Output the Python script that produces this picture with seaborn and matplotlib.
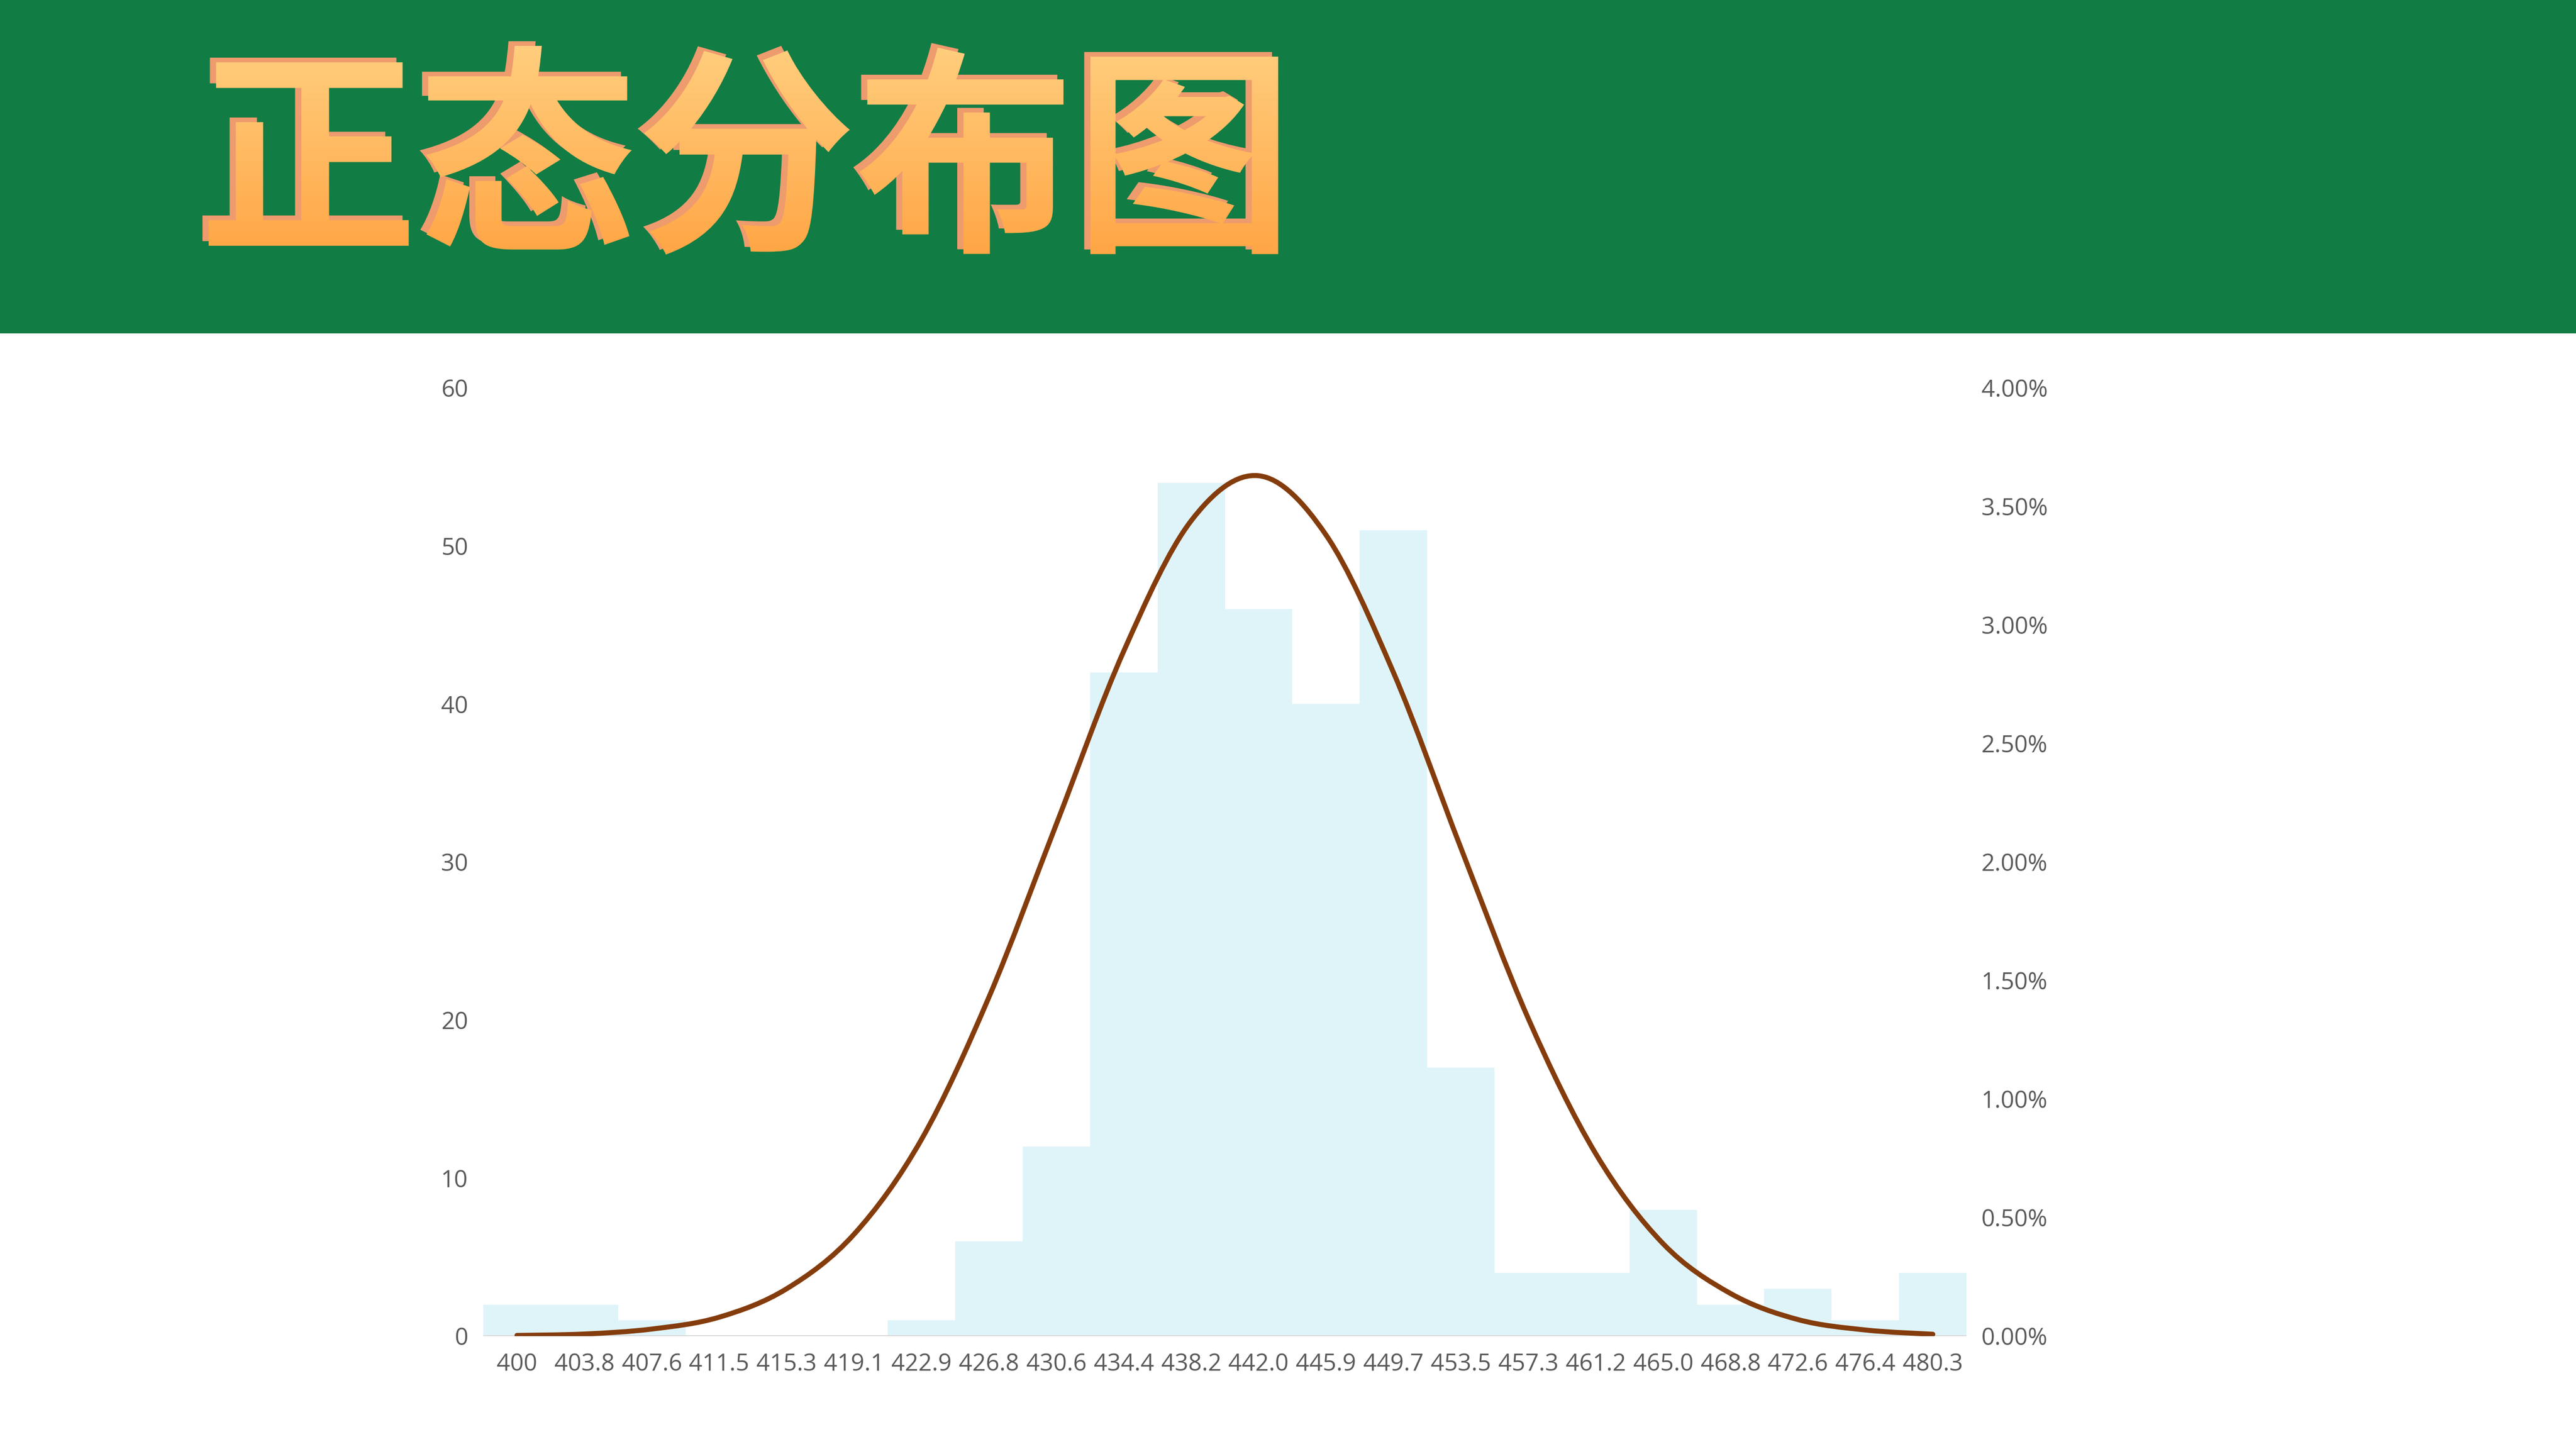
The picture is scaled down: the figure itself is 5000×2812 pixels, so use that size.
import numpy as np
import pandas as pd
import matplotlib
matplotlib.use('Agg')
import matplotlib.pyplot as plt
import seaborn as sns
from matplotlib.path import Path
from matplotlib.patches import PathPatch
from matplotlib.textpath import TextPath
from matplotlib.font_manager import FontProperties
from matplotlib.transforms import Affine2D
from matplotlib.colors import LinearSegmentedColormap
from matplotlib.ticker import FuncFormatter, MultipleLocator

# data
title = '正态分布图'
bins = ['400', '403.8', '407.6', '411.5', '415.3', '419.1', '422.9', '426.8',
        '430.6', '434.4', '438.2', '442.0', '445.9', '449.7', '453.5', '457.3',
        '461.2', '465.0', '468.8', '472.6', '476.4', '480.3']
counts = [2, 2, 1, 0, 0, 0, 1, 6, 12, 42, 54, 46, 40, 51, 17, 4, 4, 8, 2, 3, 1, 4]
# normal curve values in percent
density = [0.003, 0.009, 0.03, 0.08, 0.20, 0.43, 0.83, 1.43, 2.16, 2.89, 3.44,
           3.63, 3.38, 2.80, 2.06, 1.34, 0.77, 0.39, 0.18, 0.07, 0.026, 0.008]

W, H = 5000, 2812
sns.set_theme(style='white')
plt.rcParams['font.family'] = ['Open Sans', 'DejaVu Sans']

fig = plt.figure(figsize=(W / 100, H / 100), dpi=100)
fig.patch.set_facecolor('white')

# green header band with the title
band_h = 647
hdr = fig.add_axes([0, 1 - band_h / H, 1, band_h / H])
hdr.set_facecolor('#117C44')
hdr.set_xticks([])
hdr.set_yticks([])
for s in hdr.spines.values():
    s.set_visible(False)

tp = TextPath((0, 0), title, size=100,
              prop=FontProperties(family='Noto Sans CJK SC', weight='heavy'))
ext = tp.get_extents()
x0, x1, y0, y1 = 405, 2481, 153, 558
tf = (Affine2D().translate(-ext.x0, -ext.y0)
      .scale((x1 - x0) / ext.width, (y1 - y0) / ext.height)
      .translate(x0, y0))
path = tf.transform_path(tp)
shadow = Affine2D().translate(-12, 9).transform_path(path)
hdr.add_patch(PathPatch(shadow, facecolor='#EE9B6E', edgecolor='none', zorder=1))
clip = PathPatch(path, facecolor='none', edgecolor='none', zorder=1)
hdr.add_patch(clip)
grad = np.linspace(0, 1, 256).reshape(-1, 1)
cmap = LinearSegmentedColormap.from_list('title', ['#FFA544', '#FFCF7F'])
im = hdr.imshow(grad, extent=[x0 - 20, x1 + 20, y0 - 10, y1 + 10],
                origin='lower', cmap=cmap, aspect='auto', zorder=2)
im.set_clip_path(clip)
hdr.set_xlim(0, W)
hdr.set_ylim(0, band_h)

# histogram bars
ax = fig.add_axes([938 / W, 1 - 2593 / H, (3817 - 938) / W, (2593 - 753) / H])
df = pd.DataFrame({'bin': bins, 'count': counts})
sns.barplot(data=df, x='bin', y='count', order=bins, color='#DFF4F9',
            saturation=1, width=1.0, linewidth=0, ax=ax)
ax.set_ylim(0, 60)
ax.set_xlim(-0.5, len(bins) - 0.5)
ax.yaxis.set_major_locator(MultipleLocator(10))
ax.axhline(0, color='#D9D9D9', lw=3.5, zorder=3)
ax.set_xlabel('')
ax.set_ylabel('')

# normal curve on the secondary axis, smoothed like a spreadsheet line
ax2 = ax.twinx()
ax2.set_ylim(0, 0.04)
ax2.yaxis.set_major_locator(MultipleLocator(0.005))
ax2.yaxis.set_major_formatter(FuncFormatter(lambda v, p: f'{v * 100:.2f}%'))

pts = np.column_stack([np.arange(len(bins)), np.array(density) / 100])
verts = [pts[0]]
codes = [Path.MOVETO]
n = len(pts)
for i in range(n - 1):
    p0 = pts[max(i - 1, 0)]
    p1 = pts[i]
    p2 = pts[i + 1]
    p3 = pts[min(i + 2, n - 1)]
    verts += [p1 + (p2 - p0) / 6, p2 - (p3 - p1) / 6, p2]
    codes += [Path.CURVE4] * 3
ax2.add_patch(PathPatch(Path(verts, codes), facecolor='none', edgecolor='#843C0C',
                        lw=7, capstyle='round', joinstyle='round'))

for a in (ax, ax2):
    for s in a.spines.values():
        s.set_visible(False)
    a.grid(False)
ax.tick_params(axis='x', length=0, labelsize=33, labelcolor='#595959', pad=23)
ax.tick_params(axis='y', length=0, labelsize=33, labelcolor='#595959', pad=21)
ax2.tick_params(axis='y', length=0, labelsize=33, labelcolor='#595959', pad=21)

fig.savefig('out.png', dpi=100)
